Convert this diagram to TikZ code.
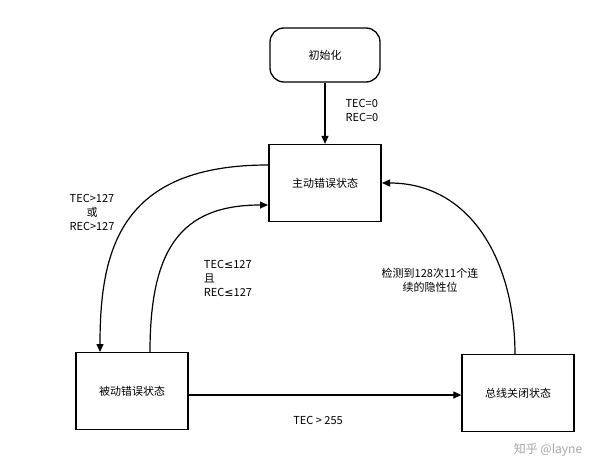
\documentclass[tikz,border=0pt]{standalone}
\usepackage{fontspec}
\setmainfont{Noto Sans CJK SC}
\newfontfamily\symfont{DejaVu Sans}
\usetikzlibrary{arrows.meta}
\begin{document}
\begin{tikzpicture}[x=1pt,y=-1pt,
  box/.style={draw,line width=1.3pt,minimum width=112pt,minimum height=77pt,font=\fontsize{11}{13}\selectfont},
  lbl/.style={font=\fontsize{11}{14}\selectfont,align=center},
  arr/.style={-{Triangle[length=8pt,width=7pt]},line width=1.2pt}]
\useasboundingbox (0,0) rectangle (600,471);
\node[box,rounded corners=14pt,minimum width=110pt,minimum height=54pt] (init) at (325,55) {初始化};
\node[box] (act) at (325,183) {主动错误状态};
\node[box] (pas) at (132,391) {被动错误状态};
\node[box] (off) at (518,393) {总线关闭状态};
\draw[arr] (init) -- (act);
\node[lbl,align=left] (l1) at (362,110) {TEC=0\\REC=0};
\coordinate (a1) at (268,165);
\coordinate (p1) at (100,352);
\draw[arr] (a1) .. controls (120,165) and (100,250) .. (p1);
\coordinate (p2) at (150,352);
\coordinate (a2) at (268,205);
\draw[arr] (p2) .. controls (150,250) and (180,205) .. (a2);
\coordinate (o1) at (515,355);
\coordinate (a3) at (382,183);
\draw[arr] (o1) .. controls (515,260) and (470,183) .. (a3);
\draw[arr] (pas.east |- 0,395) -- (off.west |- 0,395);
\node[lbl] (l2) at (92,212) {TEC>127\\或\\REC>127};
\node[lbl,align=left] (l3) at (228,278) {TEC{\symfont ≤}127\\且\\REC{\symfont ≤}127};
\node[lbl] (l4) at (430,280) {检测到128次11个连\\续的隐性位};
\node[lbl] (l5) at (318,420) {TEC > 255};
\node[font=\fontsize{12}{14}\selectfont,text=gray!70] (wm) at (548,450) {知乎 @layne};
\end{tikzpicture}
\end{document}
